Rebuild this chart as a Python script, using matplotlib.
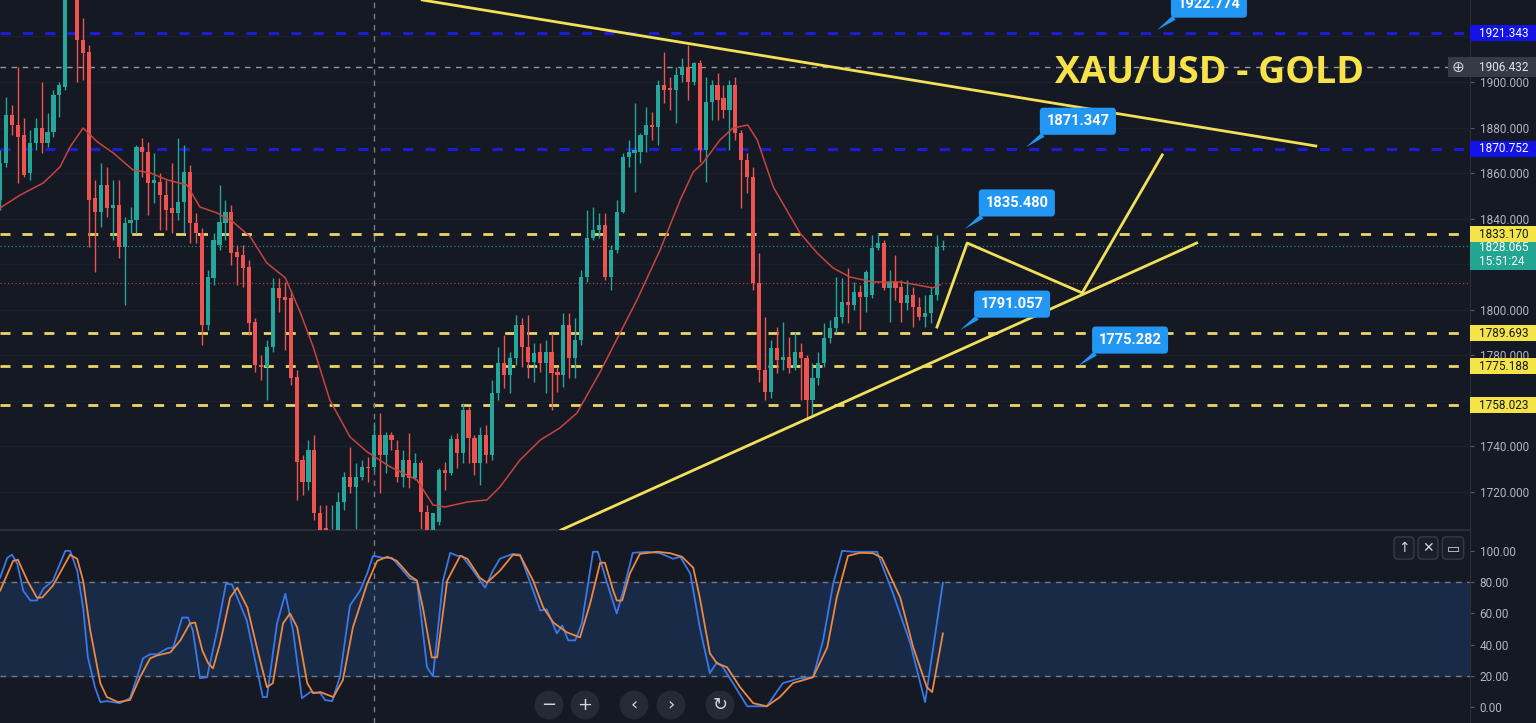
import numpy as np
import matplotlib
matplotlib.use('Agg')
import matplotlib.pyplot as plt
from matplotlib.transforms import blended_transform_factory
from matplotlib.patches import Rectangle

# XAU/USD 4h candles
opens = [1848.2, 1864.4, 1885.5, 1881.1, 1876.7, 1860.1, 1873.2, 1879.8, 1873.2, 1878.1,
         1894.3, 1897.8, 1945.0, 1950.0, 1918.4, 1913.2, 1849.1, 1842.9, 1854.8, 1844.7,
         1846.0, 1827.6, 1838.1, 1839.4, 1871.5, 1869.3, 1855.7, 1856.1, 1850.4, 1844.7,
         1842.5, 1847.3, 1860.5, 1838.1, 1833.7, 1793.3, 1814.0, 1828.4, 1838.1, 1842.9,
         1825.4, 1824.1, 1818.8, 1794.6, 1775.8, 1774.9, 1783.7, 1809.6, 1805.6, 1805.2,
         1770.5, 1734.1, 1724.4, 1738.4, 1710.8, 1704.2, 1692.4, 1701.1, 1715.6, 1726.6,
         1722.2, 1726.6, 1731.0, 1731.0, 1745.0, 1736.3, 1745.0, 1738.4, 1726.6, 1734.1,
         1726.2, 1732.7, 1711.2, 1703.3, 1706.8, 1729.7, 1728.4, 1743.3, 1737.1, 1756.0,
         1743.7, 1732.7, 1745.0, 1736.3, 1763.5, 1776.6, 1771.4, 1778.8, 1793.3, 1783.7,
         1777.1, 1781.5, 1776.6, 1781.5, 1772.7, 1771.4, 1793.3, 1778.8, 1786.7, 1814.4,
         1831.5, 1835.0, 1837.2, 1814.4, 1826.2, 1842.9, 1867.1, 1868.8, 1869.3, 1876.7,
         1881.1, 1880.2, 1898.7, 1897.4, 1896.5, 1903.1, 1906.6, 1900.0, 1908.3, 1870.1,
         1891.2, 1898.7, 1893.0, 1887.7, 1898.7, 1877.6, 1865.8, 1858.3, 1811.8, 1773.6,
         1763.9, 1783.2, 1778.0, 1779.3, 1774.4, 1781.5, 1778.8, 1760.4, 1770.1, 1776.6,
         1787.6, 1792.0, 1796.8, 1803.4, 1802.1, 1807.8, 1805.6, 1806.5, 1827.1, 1829.3,
         1809.6, 1812.2, 1810.0, 1803.0, 1806.5, 1801.2, 1796.8, 1798.6, 1806.5, 1827.6]
highs = [1870.1, 1893.4, 1889.9, 1906.6, 1884.2, 1878.9, 1884.2, 1900.0, 1886.4, 1896.5,
         1900.0, 1948.0, 1959.0, 1952.0, 1928.1, 1916.2, 1857.0, 1864.4, 1862.7, 1857.0,
         1857.0, 1840.7, 1845.1, 1872.3, 1875.4, 1873.7, 1868.8, 1860.1, 1857.0, 1864.4,
         1875.4, 1872.3, 1863.6, 1842.5, 1835.9, 1817.5, 1833.7, 1854.8, 1848.2, 1846.0,
         1828.4, 1828.4, 1821.9, 1796.4, 1780.2, 1786.7, 1814.0, 1814.0, 1812.2, 1808.7,
         1773.6, 1736.3, 1742.8, 1745.0, 1714.3, 1714.3, 1714.3, 1720.0, 1728.8, 1739.8,
         1732.7, 1734.1, 1735.4, 1750.7, 1754.7, 1746.4, 1746.4, 1742.8, 1738.4, 1745.9,
         1737.1, 1734.1, 1714.3, 1710.8, 1730.5, 1733.2, 1745.0, 1745.9, 1759.1, 1757.3,
         1745.0, 1748.5, 1749.4, 1769.2, 1783.7, 1788.9, 1781.5, 1797.7, 1796.4, 1797.7,
         1785.4, 1785.4, 1786.7, 1789.8, 1774.9, 1798.6, 1798.6, 1796.4, 1817.5, 1843.8,
         1845.1, 1842.5, 1842.5, 1828.4, 1848.2, 1868.8, 1874.5, 1890.8, 1877.6, 1889.0,
         1886.8, 1900.9, 1913.2, 1902.2, 1906.6, 1910.5, 1916.2, 1908.8, 1909.7, 1902.2,
         1900.9, 1904.0, 1898.7, 1900.9, 1902.2, 1878.9, 1868.8, 1862.7, 1824.9, 1796.8,
         1786.7, 1792.4, 1794.6, 1788.1, 1790.3, 1785.4, 1780.2, 1776.6, 1781.5, 1794.2,
         1795.5, 1814.4, 1814.0, 1818.3, 1812.2, 1810.9, 1817.5, 1832.8, 1833.7, 1830.6,
         1817.5, 1824.1, 1813.1, 1813.1, 1810.0, 1805.6, 1806.5, 1810.0, 1832.8, 1830.6]
lows = [1843.8, 1862.7, 1876.7, 1855.7, 1858.3, 1857.0, 1870.1, 1868.8, 1871.5, 1875.9,
        1884.6, 1896.5, 1940.0, 1900.0, 1900.9, 1827.6, 1816.6, 1836.3, 1840.7, 1830.6,
        1822.7, 1802.1, 1833.7, 1833.7, 1858.3, 1841.6, 1846.9, 1835.0, 1835.0, 1833.7,
        1839.4, 1833.7, 1829.3, 1829.3, 1784.5, 1791.1, 1810.9, 1826.2, 1830.6, 1819.7,
        1810.9, 1810.0, 1788.9, 1772.7, 1769.2, 1760.4, 1781.5, 1799.0, 1782.3, 1767.0,
        1716.5, 1718.7, 1720.9, 1707.7, 1698.9, 1690.2, 1688.0, 1698.9, 1712.1, 1719.6,
        1703.3, 1725.3, 1724.4, 1729.7, 1719.6, 1728.4, 1738.4, 1724.4, 1722.2, 1721.8,
        1725.3, 1703.3, 1696.7, 1701.1, 1705.5, 1720.9, 1727.5, 1730.5, 1732.7, 1732.7,
        1727.5, 1723.1, 1732.7, 1734.1, 1760.4, 1765.7, 1763.5, 1775.8, 1774.9, 1770.1,
        1768.3, 1772.7, 1763.5, 1756.0, 1763.9, 1766.1, 1770.1, 1770.1, 1784.5, 1812.2,
        1830.6, 1831.5, 1813.1, 1808.7, 1824.9, 1842.5, 1862.7, 1851.7, 1864.4, 1869.3,
        1874.5, 1872.3, 1890.8, 1887.7, 1882.0, 1900.0, 1892.1, 1898.7, 1864.9, 1856.1,
        1883.3, 1883.3, 1884.2, 1870.1, 1874.5, 1844.7, 1851.3, 1808.7, 1768.3, 1760.4,
        1761.3, 1772.3, 1773.6, 1772.3, 1773.6, 1760.4, 1751.6, 1752.9, 1767.0, 1774.9,
        1785.4, 1789.8, 1794.2, 1794.2, 1799.9, 1791.1, 1799.0, 1805.2, 1826.2, 1808.7,
        1794.6, 1804.3, 1794.6, 1799.9, 1792.4, 1795.5, 1792.4, 1794.2, 1804.3, 1826.2]
closes = [1864.4, 1885.5, 1881.1, 1875.9, 1859.2, 1873.2, 1879.8, 1873.2, 1878.1, 1894.3,
          1898.7, 1945.0, 1952.0, 1918.4, 1912.7, 1848.2, 1842.9, 1854.8, 1844.7, 1846.0,
          1827.6, 1838.1, 1839.4, 1871.5, 1869.3, 1855.7, 1857.0, 1850.4, 1843.8, 1842.5,
          1847.3, 1860.5, 1838.1, 1833.7, 1793.3, 1814.4, 1830.6, 1838.5, 1842.9, 1824.9,
          1823.2, 1818.3, 1794.2, 1775.8, 1774.9, 1783.7, 1809.6, 1805.2, 1804.3, 1770.1,
          1733.2, 1724.4, 1738.4, 1710.8, 1703.3, 1696.7, 1701.1, 1715.6, 1726.6, 1722.2,
          1726.6, 1731.0, 1730.5, 1745.0, 1736.3, 1745.0, 1742.8, 1726.6, 1734.1, 1726.2,
          1732.7, 1711.2, 1703.3, 1710.8, 1729.7, 1728.4, 1743.3, 1737.1, 1756.0, 1743.7,
          1732.7, 1745.0, 1736.3, 1763.5, 1776.6, 1771.4, 1778.8, 1793.3, 1783.7, 1777.1,
          1781.0, 1776.6, 1781.5, 1772.3, 1771.4, 1793.3, 1778.8, 1786.7, 1814.4, 1831.5,
          1835.0, 1837.2, 1814.4, 1826.2, 1842.9, 1867.1, 1869.3, 1870.1, 1876.7, 1881.1,
          1880.2, 1898.7, 1896.5, 1896.5, 1903.1, 1906.6, 1900.0, 1908.3, 1870.1, 1891.2,
          1898.7, 1892.1, 1887.7, 1898.7, 1877.6, 1865.8, 1858.3, 1811.8, 1773.6, 1763.9,
          1783.2, 1778.0, 1779.3, 1774.4, 1781.5, 1778.8, 1760.4, 1770.1, 1776.6, 1787.6,
          1792.0, 1796.8, 1803.4, 1802.1, 1807.8, 1805.6, 1816.6, 1827.1, 1829.3, 1809.6,
          1812.2, 1809.6, 1803.0, 1806.5, 1801.2, 1796.8, 1798.6, 1806.5, 1827.6, 1828.1]

# moving average (red line), vertices at bar positions
ma_idx = [0, 3.4, 7.3, 10.1, 11.8, 14.0, 16.4, 19.1, 22.4, 25.3, 28.2, 31.5, 33.7, 36.6,
          39.3, 42.2, 45.0, 48.1, 50.6, 52.8, 55.6, 59.0, 61.9, 65.8, 70.3, 73.0, 75.0,
          78.8, 82.1, 84.3, 87.7, 91.1, 94.4, 97.3, 101.2, 107.4, 111.3, 114.7, 116.9,
          118.5, 121.4, 123.6, 126.1, 127.7, 130.4, 134.9, 137.8, 140.5, 143.3, 147.2,
          151.8, 154.6, 157.3, 158.5]
ma_val = [1844.7, 1850.4, 1855.7, 1862.7, 1871.5, 1879.8, 1873.7, 1868.8, 1861.4, 1860.1,
          1857.0, 1854.8, 1845.1, 1842.5, 1838.5, 1832.0, 1820.5, 1814.0, 1799.0, 1783.7,
          1760.4, 1744.2, 1737.6, 1731.0, 1725.3, 1714.3, 1713.4, 1715.6, 1716.5, 1722.2,
          1734.1, 1742.8, 1748.1, 1754.7, 1772.7, 1804.3, 1826.2, 1848.2, 1860.5, 1864.4,
          1874.5, 1879.8, 1881.1, 1874.5, 1853.9, 1833.7, 1824.9, 1818.3, 1814.4, 1812.2,
          1812.2, 1810.9, 1809.6, 1810.9]

# stochastic %K / %D
k_idx = [0, 1.2, 2.0, 2.9, 3.9, 5.1, 6.2, 7.3, 8.9, 11.0, 11.8, 13.0, 14.0, 14.8, 16.0,
         16.9, 18.0, 20.2, 21.9, 23.1, 24.1, 25.3, 26.5, 28.2, 29.2, 30.7, 31.7, 32.5,
         33.7, 34.9, 36.6, 38.1, 39.1, 41.6, 44.3, 45.0, 46.7, 48.1, 49.4, 50.9, 52.3,
         54.0, 54.8, 56.0, 57.3, 59.0, 60.7, 61.9, 62.9, 64.6, 66.1, 69.1, 70.3, 72.0,
         73.0, 74.7, 75.9, 77.1, 77.9, 79.8, 81.8, 83.1, 84.3, 86.5, 87.7, 89.9, 91.1,
         92.2, 93.9, 94.8, 95.8, 97.0, 98.1, 100.0, 100.8, 102.4, 104.0, 105.1, 106.7,
         109.1, 111.3, 113.5, 114.7, 116.4, 118.0, 119.7, 120.9, 121.9, 123.6, 126.0,
         127.7, 129.3, 132.0, 134.9, 137.1, 138.8, 140.5, 142.0, 143.8, 147.9, 150.6,
         153.5, 156.0, 159.0]
k_val = [82.8, 95.5, 97.5, 91.7, 74.5, 68.2, 68.2, 75.8, 80.9, 100.0, 100.0, 87.3, 63.7,
         31.8, 12.7, 3.2, 3.8, 2.5, 5.7, 19.1, 31.2, 33.8, 33.8, 37.6, 38.2, 57.3, 57.3,
         49.0, 18.5, 19.1, 49.0, 79.0, 78.5, 55.4, 6.4, 6.4, 53.5, 72.6, 49.0, 5.7, 9.6,
         8.9, 4.5, 3.8, 19.1, 65.0, 74.5, 85.4, 96.8, 95.5, 95.5, 82.2, 80.9, 25.5, 19.7,
         80.9, 98.7, 96.8, 96.8, 87.3, 76.4, 87.3, 95.0, 98.1, 97.5, 74.5, 61.8, 62.5,
         47.1, 52.2, 42.7, 42.7, 53.5, 99.4, 99.4, 79.0, 59.9, 74.5, 98.7, 99.4, 98.5,
         94.9, 96.2, 85.4, 51.0, 21.7, 28.7, 25.5, 15.3, 0.5, 0.5, 0.5, 15.3, 18.5, 19.1,
         42.7, 79.0, 100.0, 99.4, 99.4, 72.6, 40.8, 3.2, 79.6]
d_idx = [0, 2.2, 3.0, 4.6, 6.2, 7.1, 8.9, 11.8, 13.0, 14.0, 15.2, 16.9, 18.0, 19.9, 21.9,
         23.6, 25.3, 26.5, 28.7, 30.4, 32.0, 32.9, 34.1, 35.1, 35.9, 37.1, 38.8, 40.0,
         41.7, 43.3, 45.0, 46.0, 47.7, 48.9, 50.1, 51.8, 52.8, 54.0, 56.2, 57.8, 59.5,
         61.9, 63.6, 65.3, 66.9, 69.1, 70.3, 71.3, 72.8, 73.7, 75.4, 77.6, 78.8, 80.9,
         82.1, 84.3, 86.5, 87.7, 89.9, 91.6, 93.3, 95.6, 97.8, 99.5, 101.2, 102.0, 103.4,
         104.0, 104.9, 106.2, 107.9, 110.8, 113.0, 115.0, 116.9, 118.0, 119.7, 120.9,
         122.6, 124.8, 127.0, 129.3, 131.5, 133.7, 137.1, 139.5, 141.1, 143.0, 145.0,
         147.2, 148.7, 151.8, 154.0, 156.3, 157.2, 159.0]
d_val = [74.5, 93.6, 94.3, 80.9, 70.1, 70.1, 77.7, 97.5, 94.9, 80.9, 49.0, 15.3, 6.4, 3.2,
         4.5, 19.1, 31.2, 33.1, 35.0, 42.7, 53.5, 54.1, 36.3, 28.0, 24.8, 40.8, 70.1, 76.4,
         63.7, 38.2, 12.7, 15.3, 53.5, 59.9, 51.0, 15.3, 8.9, 9.6, 6.4, 17.2, 51.0, 79.0,
         93.6, 96.2, 93.6, 84.1, 80.9, 63.7, 31.8, 31.8, 80.9, 96.8, 94.9, 82.8, 79.6,
         87.3, 97.5, 97.0, 80.9, 63.7, 54.1, 47.8, 44.6, 66.2, 92.4, 92.4, 74.5, 68.2,
         68.2, 85.4, 98.1, 99.4, 98.5, 96.2, 89.2, 70.1, 34.4, 28.0, 25.5, 12.7, 2.5, 0.5,
         6.4, 15.3, 19.1, 38.2, 70.1, 96.8, 98.7, 98.5, 95.5, 70.1, 38.2, 12.7, 9.6, 47.1]

# analyst drawings
yellow_levels = [1833.170, 1789.693, 1775.188, 1758.023]
blue_levels = [1921.343, 1870.752]
grey_level = 1906.432
last_price = 1828.065
countdown = '15:51:24'
prev_close = 1811.8
resist_x = [71.2, 221.9]
resist_y = [1936.0, 1871.9]
support_x = [94.6, 201.8]
support_y = [1703.3, 1829.3]
path_x = [158.0, 163.1, 182.5, 196.0]
path_y = [1792.4, 1829.3, 1807.4, 1868.0]
callout_vals = [1922.774, 1871.347, 1835.480, 1791.057, 1775.282]
callout_idx = [195.1, 173.0, 162.7, 161.9, 181.8]
crosshair_idx = 63.05
price_ticks = [1720, 1740, 1780, 1800, 1840, 1860, 1880, 1900]
stoch_ticks = [0, 20, 40, 60, 80, 100]

BG = '#151924'
UP = '#26a69a'
DOWN = '#ef5350'
YEL = '#e8d66a'
BLUE_LINE = '#1c1cd0'
CALLOUT = '#2196f3'
AXTXT = '#b2b5be'
BORDER = '#2a2e39'

plt.rcParams['font.family'] = ['Roboto', 'DejaVu Sans']

fig = plt.figure(figsize=(15.36, 7.23), dpi=100, facecolor=BG)
ax = fig.add_axes([0, 193 / 723, 1470 / 1536, 530 / 723], facecolor=BG)
ax2 = fig.add_axes([0, 0, 1470 / 1536, 192 / 723], facecolor=BG)

o = np.array(opens); h = np.array(highs); l = np.array(lows); c = np.array(closes)
x = np.arange(len(c))
cols = np.where(c >= o, UP, DOWN)

ax.set_xlim(-0.02, 247.9)
ax.set_ylim(1703.3, 1936.0)
ax2.set_xlim(-0.02, 247.9)
ax2.set_ylim(-10.2, 112.7)

# faint grid
for t in np.arange(1720, 1921, 20):
    ax.axhline(t, color='#1b1f2b', lw=1, zorder=0)

# levels
for lv in yellow_levels:
    ax.axhline(lv, color=YEL, lw=2, ls=(0, (3.6, 4.3)), zorder=1)
for lv in blue_levels:
    ax.axhline(lv, color=BLUE_LINE, lw=2.3, ls=(0, (3.2, 3.8)), zorder=1)
ax.axhline(grey_level, color='#9598a1', lw=1, ls=(0, (4, 4)), zorder=1)
ax.axhline(last_price, color=UP, lw=0.9, ls=(0, (1, 2)), alpha=0.8, zorder=1)
ax.axhline(prev_close, color=DOWN, lw=0.9, ls=(0, (1, 2)), alpha=0.7, zorder=1)
ax.axvline(crosshair_idx, color='#787b86', lw=1, ls=(0, (4, 4)), zorder=1)
ax2.axvline(crosshair_idx, color='#787b86', lw=1, ls=(0, (4, 4)), zorder=1)

# candles
ax.vlines(x, l, h, colors=cols, lw=1, zorder=2)
ax.bar(x, np.maximum(np.abs(c - o), 0.4), bottom=np.minimum(o, c), width=0.7,
       color=cols, zorder=3)
ax.plot(ma_idx, ma_val, color='#c8443f', lw=1.1, zorder=4)

# trend lines
ax.plot(resist_x, resist_y, color='#f2e05a', lw=2, zorder=5)
ax.plot(support_x, support_y, color='#f2e05a', lw=2, zorder=5)
ax.plot(path_x, path_y, color='#f2e05a', lw=2, zorder=5)

# callouts
for val, xi in zip(callout_vals, callout_idx):
    ax.annotate(f'{val:.3f}', xy=(xi, val), xytext=(52, 26), textcoords='offset pixels',
                ha='center', va='center', color='white', fontsize=10.5, fontweight='bold',
                bbox=dict(boxstyle='round,pad=0.45,rounding_size=0.25', fc=CALLOUT, ec='none'),
                arrowprops=dict(arrowstyle='wedge,tail_width=0.35', fc=CALLOUT, ec='none',
                                shrinkA=0, shrinkB=0, relpos=(0.12, 0.1)),
                zorder=6, annotation_clip=False)

ax.text(204.0, 1899.6, 'XAU/USD - GOLD', color='#f7e24a', fontsize=27,
        fontweight='bold', family=['Open Sans', 'DejaVu Sans'], ha='center', va='baseline',
        zorder=6)

# axes styling
for a in (ax, ax2):
    for s in ('top', 'left'):
        a.spines[s].set_visible(False)
    a.spines['right'].set_color(BORDER)
    a.spines['bottom'].set_color(BORDER)
    a.yaxis.tick_right()
    a.set_xticks([])
    a.tick_params(axis='y', colors='#5d606b', labelcolor=AXTXT, length=3, pad=4,
                  labelsize=8.5)
ax.spines['bottom'].set_linewidth(1.5)
ax2.spines['bottom'].set_visible(False)

ax.set_yticks(price_ticks)
ax.set_yticklabels([f'{t:.3f}' for t in price_ticks])
ax2.set_yticks(stoch_ticks)
ax2.set_yticklabels([f'{t:.2f}' for t in stoch_ticks])

# price labels on the right scale
tr = blended_transform_factory(ax.transAxes, ax.transData)
ppx = 0.439  # price units per pixel
w = 66 / 1470
hh = 16 * ppx
tx = 1 + 9 / 1470
ax.add_patch(Rectangle((1.0, last_price - 24 * ppx), w, 31 * ppx,
                       transform=tr, fc='#22a592', ec='none', clip_on=False, zorder=6))
ax.text(tx, last_price - 1.5 * ppx, f'{last_price:.3f}', transform=tr, color='white',
        fontsize=8.5, va='center', ha='left', zorder=7, clip_on=False)
ax.text(tx, last_price - 16 * ppx, countdown, transform=tr, color='white',
        fontsize=8.5, va='center', ha='left', zorder=7, clip_on=False)

labels = [(1921.343, '#1313e8', 'white'), (1870.752, '#1313e8', 'white'),
          (1833.170, '#f5e447', '#131722'), (1789.693, '#f5e447', '#131722'),
          (1775.188, '#f5e447', '#131722'), (1758.023, '#f5e447', '#131722')]
for val, fc, tc in labels:
    ax.add_patch(Rectangle((1.0, val - hh / 2), w, hh, transform=tr, fc=fc, ec='none',
                           clip_on=False, zorder=6))
    ax.text(tx, val, f'{val:.3f}', transform=tr, color=tc, fontsize=8.5,
            va='center', ha='left', zorder=7, clip_on=False)

ax.add_patch(Rectangle((1.0 - 22 / 1470, grey_level - 10 * ppx), w + 22 / 1470, 20 * ppx,
                       transform=tr, fc='#363a45', ec='none', clip_on=False, zorder=6))
ax.text(tx, grey_level, f'{grey_level:.3f}', transform=tr, color='#e0e3eb',
        fontsize=8.5, va='center', ha='left', zorder=7, clip_on=False)
ax.text(1 - 12 / 1470, grey_level, '⊕', transform=tr, color='#d1d4dc', fontsize=11,
        family='DejaVu Sans', va='center', ha='center', zorder=7, clip_on=False)

# stochastic panel
ax2.fill_between([-1, 250], 20, 80, color='#182a45', zorder=0)
ax2.axhline(80, color='#787b86', lw=1, ls=(0, (4, 4)), zorder=1)
ax2.axhline(20, color='#787b86', lw=1, ls=(0, (4, 4)), zorder=1)
ax2.plot(k_idx, k_val, color='#3a78e8', lw=1.3, zorder=3)
ax2.plot(d_idx, d_val, color='#ee8840', lw=1.3, zorder=3)

# chart buttons
for xp, s in [(549, '−'), (585, '+'), (634, '‹'), (671, '›'), (720, '↻')]:
    fig.text(xp / 1536, 1 - 705 / 723, s, color='#d1d4dc', fontsize=13,
             family='DejaVu Sans', ha='center', va='center',
             bbox=dict(boxstyle='circle,pad=0.3', fc='#262a35', ec='none'))
for xp, s in [(1404, '↑'), (1428, '✕'), (1453, '▭')]:
    fig.text(xp / 1536, 1 - 548 / 723, s, color='#d1d4dc', fontsize=10,
             family='DejaVu Sans', ha='center', va='center',
             bbox=dict(boxstyle='round,pad=0.3', fc='#1a1e29', ec='#363a45'))

fig.savefig('out.png', dpi=100, facecolor=BG)
